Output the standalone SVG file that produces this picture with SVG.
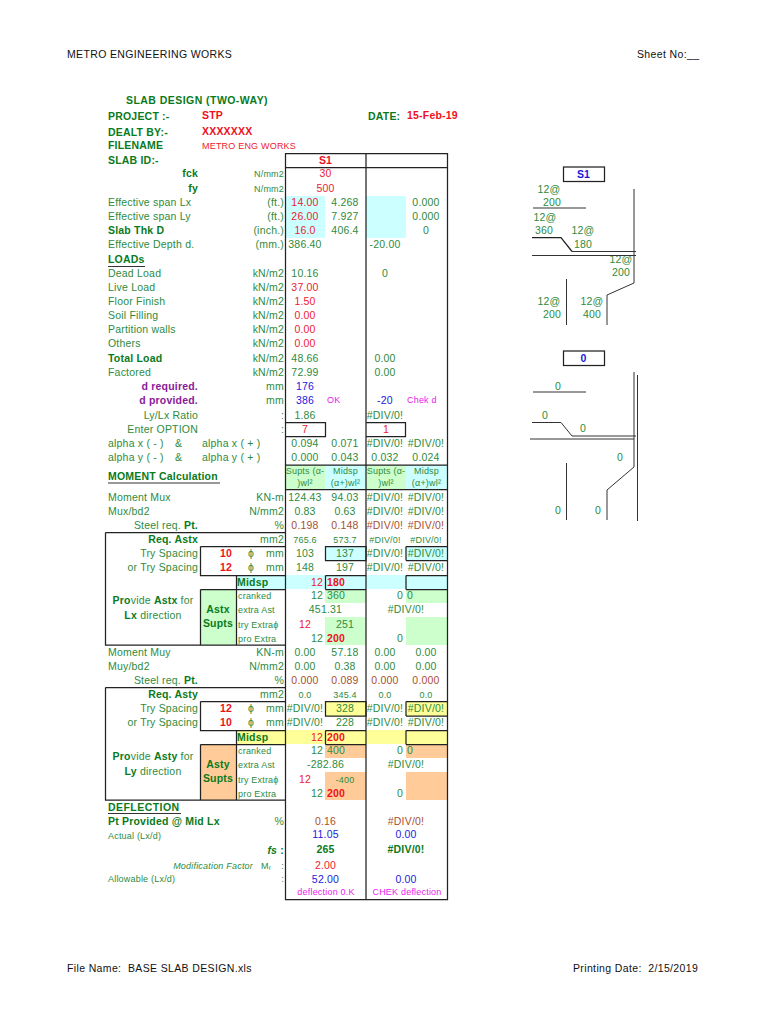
<svg xmlns="http://www.w3.org/2000/svg" width="768" height="1024" viewBox="0 0 768 1024">
<style>
text{font-family:"Liberation Sans",Arial,sans-serif;font-size:10.5px;fill:#2e8b40;letter-spacing:.2px;white-space:pre}
.h{fill:#111;font-size:10.5px;letter-spacing:.36px}
.b{font-weight:bold;fill:#0a7a20}
.w{letter-spacing:.45px}
.r{fill:#ee2030}.rb{fill:#ee1020;font-weight:bold}
.bl{fill:#2020e0}.blb{fill:#1818d8;font-weight:bold}
.mg{fill:#ee20ee;font-size:9px}
.p{fill:#8a1a9a;font-weight:bold}
.br{fill:#a85030}
.c{text-anchor:middle}.e{text-anchor:end}
.s{font-size:9px}
.l{stroke:#333;stroke-width:1;fill:none}
.k{stroke:#222;stroke-width:1.25;fill:none}
.lb{fill:#ccffff}.lg{fill:#ccffcc}.ye{fill:#ffff99}.or{fill:#ffcc99}
</style>
<rect width="768" height="1024" fill="#fff"/>
<g id="fills">
<rect class="lb" x="286" y="196" width="39" height="42"/><rect class="lb" x="366" y="196" width="40" height="42"/>
<rect class="lg" x="286" y="465" width="39" height="24"/><rect class="lb" x="325" y="465" width="41" height="24"/><rect class="lg" x="366" y="465" width="40" height="24"/><rect class="lb" x="406" y="465" width="41" height="24"/>
<rect class="lb" x="236" y="575" width="211" height="14"/><rect class="lg" x="200" y="589" width="36" height="56"/>
<rect class="lg" x="325" y="589" width="41" height="14"/><rect class="lg" x="406" y="589" width="41" height="14"/><rect class="lg" x="325" y="617" width="41" height="28"/><rect class="lg" x="406" y="617" width="41" height="28"/>
<rect class="lb" x="325" y="546" width="41" height="14"/><rect class="lb" x="406" y="546" width="41" height="14"/>
<rect class="ye" x="325" y="702" width="41" height="14"/><rect class="ye" x="406" y="702" width="41" height="14"/>
<rect class="ye" x="236" y="730" width="211" height="14"/><rect class="or" x="200" y="744" width="36" height="56"/>
<rect class="or" x="325" y="744" width="41" height="14"/><rect class="or" x="406" y="744" width="41" height="14"/><rect class="or" x="325" y="772" width="41" height="28"/><rect class="or" x="406" y="772" width="41" height="28"/>
</g>
<g id="grid">
<path class="k" d="M285.500 153.500H447.500V899.500H285.500ZM366 153.500V899.500M285.500 167.500H447.500M285.500 465H447.500M285.500 489.500H447.500"/>
<path class="k" d="M285.500 422.500H325.500V436.500H285.500M366 422.500H405.500V436.500H366"/>
<path class="k" d="M105.500 532.500H285.500M105.500 532.500V645H285.500M200.500 546.500H285.500M200.500 546.500V575.500H285.500M236.500 575.500V645M200.500 589.500H285.500M200.500 589.500V645M325.500 546.500H366V560.500H325.500ZM406 546.500H447.500M406 560.500H447.500M406 546.500V560.500M325.500 575.500H366M325.500 589.500H366M325.500 575.500V589.500M406 575.500H447.500M406 589.500H447.500M406 575.500V589.500"/>
<path class="k" d="M105.500 687.500H285.500M105.500 687.500V800H285.500M200.500 701.500H285.500M200.500 701.500V730.500H285.500M236.500 730.500V800M200.500 744.500H285.500M200.500 744.500V800M325.500 701.500H366V716H325.500ZM406 701.500H447.500M406 716H447.500M406 701.500V716M325.500 730.500H366M325.500 744.500H366M325.500 730.500V744.500M406 730.500H447.500M406 744.500H447.500M406 730.500V744.500"/>
<path class="l" d="M108 266.500H145M108 483H220M108 813.500H181"/>
</g>
<g id="header">
<text class="h" x="67" y="58">METRO ENGINEERING WORKS</text>
<text class="h" x="637" y="58">Sheet No:__</text>
<text class="h" x="67" y="972">File Name:  BASE SLAB DESIGN.xls</text>
<text class="h" x="573" y="972">Printing Date:  2/15/2019</text>
<text class="b w" x="126" y="104">SLAB DESIGN (TWO-WAY)</text>
<text class="b" x="108" y="120">PROJECT :-</text><text class="rb" x="202" y="119">STP</text>
<text class="b" x="368" y="120">DATE:</text><text class="rb" x="407" y="119">15-Feb-19</text>
<text class="b" x="108" y="136">DEALT BY:-</text><text class="rb" x="202" y="135">XXXXXXX</text>
<text class="b" x="108" y="149">FILENAME</text><text class="r s" x="202" y="149">METRO ENG WORKS</text>
<text class="b" x="108" y="164">SLAB ID:-</text>
<text class="rb c" x="325.500" y="164">S1</text>
</g>
<g id="labels">
<text class="b e" x="198" y="177">fck</text><text class="e s" x="284" y="177">N/mm2</text><text class="r c" x="325.500" y="177">30</text>
<text class="b e" x="198" y="192">fy</text><text class="e s" x="284" y="192">N/mm2</text><text class="r c" x="325.500" y="192">500</text>
<text x="108" y="206">Effective span Lx</text><text class="e" x="284" y="206">(ft.)</text><text class="r c" x="305" y="206">14.00</text><text class="c" x="345" y="206">4.268</text><text class="c" x="426" y="206">0.000</text>
<text x="108" y="220">Effective span Ly</text><text class="e" x="284" y="220">(ft.)</text><text class="r c" x="305" y="220">26.00</text><text class="c" x="345" y="220">7.927</text><text class="c" x="426" y="220">0.000</text>
<text class="b" x="108" y="234">Slab Thk D</text><text class="e" x="284" y="234">(inch.)</text><text class="r c" x="305" y="234">16.0</text><text class="c" x="345" y="234">406.4</text><text class="c" x="426" y="234">0</text>
<text x="108" y="248">Effective Depth d.</text><text class="e" x="284" y="248">(mm.)</text><text class="c" x="305" y="248">386.40</text><text class="c" x="385" y="248">-20.00</text>
<text class="b" x="108" y="263">LOADs</text>
<text x="108" y="277">Dead Load</text><text class="e" x="284" y="277">kN/m2</text><text class="c" x="305" y="277">10.16</text><text class="c" x="385" y="277">0</text>
<text x="108" y="291">Live Load</text><text class="e" x="284" y="291">kN/m2</text><text class="r c" x="305" y="291">37.00</text>
<text x="108" y="305">Floor Finish</text><text class="e" x="284" y="305">kN/m2</text><text class="r c" x="305" y="305">1.50</text>
<text x="108" y="319">Soil Filling</text><text class="e" x="284" y="319">kN/m2</text><text class="r c" x="305" y="319">0.00</text>
<text x="108" y="333">Partition walls</text><text class="e" x="284" y="333">kN/m2</text><text class="r c" x="305" y="333">0.00</text>
<text x="108" y="347">Others</text><text class="e" x="284" y="347">kN/m2</text><text class="r c" x="305" y="347">0.00</text>
<text class="b" x="108" y="362">Total Load</text><text class="e" x="284" y="362">kN/m2</text><text class="c" x="305" y="362">48.66</text><text class="c" x="385" y="362">0.00</text>
<text x="108" y="376">Factored</text><text class="e" x="284" y="376">kN/m2</text><text class="c" x="305" y="376">72.99</text><text class="c" x="385" y="376">0.00</text>
<text class="p e" x="198" y="390">d required.</text><text class="e" x="284" y="390">mm</text><text class="bl c" x="305" y="390">176</text>
<text class="p e" x="198" y="404">d provided.</text><text class="e" x="284" y="404">mm</text><text class="bl c" x="305" y="404">386</text><text class="mg" x="327" y="403">OK</text><text class="bl c" x="385" y="404">-20</text><text class="mg" x="407" y="403">Chek d</text>
<text class="e" x="198" y="419">Ly/Lx Ratio</text><text class="e" x="284" y="419">:</text><text class="c" x="305" y="419">1.86</text><text class="c" x="385" y="419">#DIV/0!</text>
<text class="e" x="198" y="433">Enter OPTION</text><text class="e" x="284" y="433">:</text><text class="r c" x="305" y="433">7</text><text class="r c" x="386" y="433">1</text>
<text x="108" y="447">alpha x ( - )</text><text x="175" y="447">&amp;</text><text x="202" y="447">alpha x ( + )</text><text class="c" x="305" y="447">0.094</text><text class="c" x="345" y="447">0.071</text><text class="c" x="385" y="447">#DIV/0!</text><text class="c" x="426" y="447">#DIV/0!</text>
<text x="108" y="461">alpha y ( - )</text><text x="175" y="461">&amp;</text><text x="202" y="461">alpha y ( + )</text><text class="c" x="305" y="461">0.000</text><text class="c" x="345" y="461">0.043</text><text class="c" x="385" y="461">0.032</text><text class="c" x="426" y="461">0.024</text>
<text class="s c" x="305" y="474">Supts (α-</text><text class="s c" x="305" y="486">)wl²</text><text class="s c" x="345.500" y="474">Midsp</text><text class="s c" x="345.500" y="486">(α+)wl²</text><text class="s c" x="386" y="474">Supts (α-</text><text class="s c" x="386" y="486">)wl²</text><text class="s c" x="426.500" y="474">Midsp</text><text class="s c" x="426.500" y="486">(α+)wl²</text>
<text class="b" x="108" y="480">MOMENT Calculation</text>
<text x="108" y="501">Moment Mux</text><text class="e" x="284" y="501">KN-m</text><text class="c" x="305" y="501">124.43</text><text class="c" x="345" y="501">94.03</text><text class="c" x="385" y="501">#DIV/0!</text><text class="c" x="426" y="501">#DIV/0!</text>
<text x="108" y="515">Mux/bd2</text><text class="e" x="284" y="515">N/mm2</text><text class="c" x="305" y="515">0.83</text><text class="c" x="345" y="515">0.63</text><text class="c" x="385" y="515">#DIV/0!</text><text class="c" x="426" y="515">#DIV/0!</text>
<text class="e" x="198" y="529">Steel req. <tspan class="b">Pt.</tspan></text><text class="e" x="284" y="529">%</text><text class="br c" x="305" y="529">0.198</text><text class="br c" x="345" y="529">0.148</text><text class="br c" x="385" y="529">#DIV/0!</text><text class="br c" x="426" y="529">#DIV/0!</text>
<text class="b e" x="198" y="543">Req. Astx</text><text class="e" x="284" y="543">mm2</text><text class="c s" x="305" y="543">765.6</text><text class="c s" x="345" y="543">573.7</text><text class="c s" x="385" y="543">#DIV/0!</text><text class="c s" x="426" y="543">#DIV/0!</text>
<text class="e" x="198" y="557">Try Spacing</text><text class="rb c" x="226" y="557">10</text><text class="c" x="251" y="557">ϕ</text><text class="e" x="284" y="557">mm</text><text class="c" x="305" y="557">103</text><text class="c" x="345" y="557">137</text><text class="c" x="385" y="557">#DIV/0!</text><text class="c" x="426" y="557">#DIV/0!</text>
<text class="e" x="198" y="571">or Try Spacing</text><text class="rb c" x="226" y="571">12</text><text class="c" x="251" y="571">ϕ</text><text class="e" x="284" y="571">mm</text><text class="c" x="305" y="571">148</text><text class="c" x="345" y="571">197</text><text class="c" x="385" y="571">#DIV/0!</text><text class="c" x="426" y="571">#DIV/0!</text>
<text class="b" x="237" y="586">Midsp</text><text class="r e" x="323" y="586">12</text><text class="rb" x="327" y="586">180</text>
<text class="s" x="238" y="599">cranked</text><text class="e" x="323" y="599">12</text><text x="327" y="599">360</text><text class="e" x="403" y="599">0</text><text x="407" y="599">0</text>
<text class="s" x="238" y="613">extra Ast</text><text class="c" x="325.500" y="613">451.31</text><text class="c" x="406" y="613">#DIV/0!</text>
<text class="s" x="238" y="628">try Extraϕ</text><text class="r c" x="305" y="628">12</text><text class="c" x="345" y="628">251</text>
<text class="s" x="238" y="642">pro Extra</text><text class="e" x="323" y="642">12</text><text class="rb" x="327" y="642">200</text><text class="e" x="403" y="642">0</text>
<text class="c" x="153" y="604"><tspan class="b">Pro</tspan>vide <tspan class="b">Astx</tspan> for</text><text class="c" x="153" y="619"><tspan class="b">Lx</tspan> direction</text>
<text class="b c" x="218" y="613">Astx</text><text class="b c" x="218" y="627">Supts</text>
<text x="108" y="656">Moment Muy</text><text class="e" x="284" y="656">KN-m</text><text class="c" x="305" y="656">0.00</text><text class="c" x="345" y="656">57.18</text><text class="c" x="385" y="656">0.00</text><text class="c" x="426" y="656">0.00</text>
<text x="108" y="670">Muy/bd2</text><text class="e" x="284" y="670">N/mm2</text><text class="c" x="305" y="670">0.00</text><text class="c" x="345" y="670">0.38</text><text class="c" x="385" y="670">0.00</text><text class="c" x="426" y="670">0.00</text>
<text class="e" x="198" y="684">Steel req. <tspan class="b">Pt.</tspan></text><text class="e" x="284" y="684">%</text><text class="br c" x="305" y="684">0.000</text><text class="br c" x="345" y="684">0.089</text><text class="br c" x="385" y="684">0.000</text><text class="br c" x="426" y="684">0.000</text>
<text class="b e" x="198" y="698">Req. Asty</text><text class="e" x="284" y="698">mm2</text><text class="c s" x="305" y="698">0.0</text><text class="c s" x="345" y="698">345.4</text><text class="c s" x="385" y="698">0.0</text><text class="c s" x="426" y="698">0.0</text>
<text class="e" x="198" y="712">Try Spacing</text><text class="rb c" x="226" y="712">12</text><text class="c" x="251" y="712">ϕ</text><text class="e" x="284" y="712">mm</text><text class="c" x="305" y="712">#DIV/0!</text><text class="c" x="345" y="712">328</text><text class="c" x="385" y="712">#DIV/0!</text><text class="c" x="426" y="712">#DIV/0!</text>
<text class="e" x="198" y="726">or Try Spacing</text><text class="rb c" x="226" y="726">10</text><text class="c" x="251" y="726">ϕ</text><text class="e" x="284" y="726">mm</text><text class="c" x="305" y="726">#DIV/0!</text><text class="c" x="345" y="726">228</text><text class="c" x="385" y="726">#DIV/0!</text><text class="c" x="426" y="726">#DIV/0!</text>
<text class="b" x="237" y="741">Midsp</text><text class="r e" x="323" y="741">12</text><text class="rb" x="327" y="741">200</text>
<text class="s" x="238" y="754">cranked</text><text class="e" x="323" y="754">12</text><text x="327" y="754">400</text><text class="e" x="403" y="754">0</text><text x="407" y="754">0</text>
<text class="s" x="238" y="768">extra Ast</text><text class="c" x="325.500" y="768">-282.86</text><text class="c" x="406" y="768">#DIV/0!</text>
<text class="s" x="238" y="783">try Extraϕ</text><text class="r c" x="305" y="783">12</text><text class="c s" x="345" y="783">-400</text>
<text class="s" x="238" y="797">pro Extra</text><text class="e" x="323" y="797">12</text><text class="rb" x="327" y="797">200</text><text class="e" x="403" y="797">0</text>
<text class="c" x="153" y="760"><tspan class="b">Pro</tspan>vide <tspan class="b">Asty</tspan> for</text><text class="c" x="153" y="775"><tspan class="b">Ly</tspan> direction</text>
<text class="b c" x="218" y="768">Asty</text><text class="b c" x="218" y="782">Supts</text>
<text class="b w" x="108" y="811">DEFLECTION</text>
<text class="b" x="108" y="825">Pt Provided @ Mid Lx</text><text class="e" x="284" y="825">%</text><text class="br c" x="325.500" y="825">0.16</text><text class="br c" x="406" y="825">#DIV/0!</text>
<text class="s" x="108" y="839">Actual (Lx/d)</text><text class="bl c" x="325.500" y="838">11.05</text><text class="bl c" x="406" y="838">0.00</text>
<text class="b e" x="284" y="854"><tspan font-style="italic">fs</tspan> :</text><text class="b c" x="325.500" y="853">265</text><text class="b c" x="406" y="853">#DIV/0!</text>
<text class="s e" x="253" y="869" font-style="italic">Modification Factor</text><text class="s" x="261" y="869">M<tspan font-size="6" dy="1">f</tspan></text><text class="e s" x="284" y="869">:</text><text class="r c" x="325.500" y="869">2.00</text>
<text class="s" x="108" y="882">Allowable (Lx/d)</text><text class="e s" x="284" y="882">:</text><text class="bl c" x="325.500" y="883">52.00</text><text class="bl c" x="406" y="883">0.00</text>
<text class="mg c" x="326" y="895">deflection 0.K</text><text class="mg c" x="407" y="895">CHEK deflection</text>
</g>
<g id="detail-s1">
<rect class="k" x="563.500" y="167" width="41" height="14.500"/>
<text class="blb c" x="583.500" y="178">S1</text>
<text class="c" x="549" y="193">12@</text><text class="c" x="552" y="206">200</text>
<text class="c" x="545" y="221">12@</text><text class="c" x="544" y="234">360</text>
<text class="c" x="583" y="234">12@</text><text class="c" x="583" y="248">180</text>
<text class="c" x="621" y="263">12@</text><text class="c" x="621" y="276">200</text>
<text class="c" x="549" y="305">12@</text><text class="c" x="552" y="318">200</text>
<text class="c" x="592" y="305">12@</text><text class="c" x="592" y="318">400</text>
<path class="l" d="M533 208H586M532 255.500H636M634 189V283L607 295V325M566.500 279V325M572 251.500H636"/>
<path class="k" d="M532 237.500H561L572 251.500"/>
</g>
<g id="detail-0">
<rect class="k" x="563.500" y="351" width="41" height="14.500"/>
<text class="blb c" x="583.500" y="362">0</text>
<text class="c" x="558" y="390">0</text><text class="c" x="545" y="419">0</text><text class="c" x="583" y="432">0</text><text class="c" x="620" y="461">0</text><text class="c" x="558" y="514">0</text><text class="c" x="598" y="514">0</text>
<path class="l" d="M533 392H586M532 422.500H561L572 436H636M530 439H634M634 372V467L607 490V520M637.500 375V521M566.500 463V520"/>
</g>
</svg>
